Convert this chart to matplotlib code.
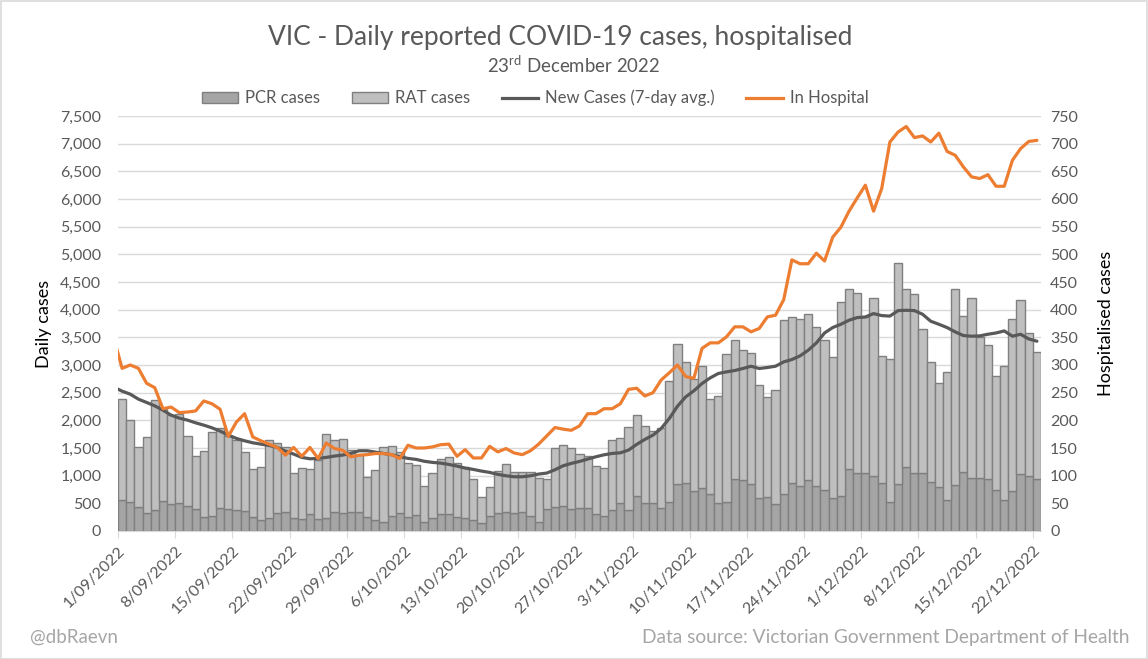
import matplotlib.pyplot as plt
import numpy as np
from matplotlib.patches import Patch, Rectangle
from matplotlib.lines import Line2D
from matplotlib.ticker import FuncFormatter, MultipleLocator

plt.rcParams['font.family'] = ['Lato', 'DejaVu Sans']
plt.rcParams['mathtext.fontset'] = 'custom'
plt.rcParams['mathtext.rm'] = 'Lato'

# daily values 1/09/2022 .. 22/12/2022 (113 days)
total_cases = [
    2383, 2004, 1522, 1702, 2370, 2202, 2094, 2110, 1715, 1360,
    1450, 1793, 1865, 1715, 1643, 1426, 1125, 1161, 1643, 1583,
    1522, 1053, 1131, 1113, 1282, 1751, 1643, 1655, 1462, 1372,
    980, 1101, 1522, 1540, 1431, 1233, 1191, 815, 1041, 1294,
    1330, 1233, 1150, 939, 619, 800, 1083, 1209, 1071, 1071,
    1059, 951, 933, 1504, 1552, 1492, 1384, 1354, 1179, 1131,
    1643, 1685, 1883, 2100, 1900, 1805, 1865, 2713, 3388, 3056,
    2738, 2978, 2377, 2437, 3195, 3460, 3267, 3219, 2635, 2413,
    2557, 3809, 3868, 3827, 3917, 3688, 3448, 3147, 4139, 4368,
    4302, 3870, 4211, 3162, 3117, 4843, 4368, 4290, 3652, 3056,
    2677, 2876, 4368, 3887, 4211, 3508, 3370, 2804, 2984, 3833,
    4181, 3586, 3237,
]
pcr_cases = [
    560, 529, 439, 319, 379, 547, 482, 500, 457, 391,
    259, 271, 421, 391, 379, 361, 259, 205, 238, 331,
    349, 241, 217, 301, 217, 241, 343, 331, 343, 349,
    247, 199, 169, 271, 331, 247, 289, 160, 230, 301,
    301, 247, 229, 199, 150, 271, 331, 349, 331, 349,
    277, 162, 397, 427, 451, 397, 421, 409, 307, 271,
    379, 505, 379, 632, 505, 505, 415, 523, 848, 872,
    722, 776, 668, 499, 529, 939, 921, 848, 602, 620,
    487, 668, 860, 812, 921, 812, 740, 590, 632, 1119,
    1041, 1041, 993, 866, 517, 845, 1155, 1041, 1053, 890,
    800, 560, 830, 1071, 951, 963, 939, 740, 560, 722,
    1029, 993, 939,
]
# line series start one day earlier (31/08) so they run in from the left edge
avg_7day = [
    2599,
    2527, 2473, 2383, 2323, 2262, 2184, 2094, 2040, 2004, 1955,
    1913, 1865, 1805, 1733, 1673, 1630, 1594, 1570, 1545, 1511,
    1444, 1390, 1330, 1305, 1312, 1330, 1354, 1372, 1402, 1450,
    1450, 1426, 1402, 1378, 1342, 1312, 1294, 1260, 1240, 1227,
    1203, 1173, 1137, 1113, 1083, 1059, 1023, 998, 980, 980,
    998, 1029, 1047, 1107, 1179, 1222, 1257, 1300, 1341, 1377,
    1402, 1413, 1462, 1565, 1655, 1733, 1854, 2034, 2256, 2424,
    2533, 2666, 2767, 2847, 2876, 2900, 2937, 2978, 2937, 2955,
    2978, 3056, 3099, 3165, 3267, 3399, 3579, 3677, 3736, 3809,
    3857, 3868, 3929, 3893, 3884, 3983, 3989, 3983, 3917, 3791,
    3736, 3677, 3598, 3532, 3520, 3526, 3556, 3579, 3616, 3520,
    3556, 3471, 3430,
]
in_hospital = [
    348,
    294, 300, 294, 267, 259, 221, 224, 214, 215, 217,
    235, 230, 220, 171, 197, 212, 170, 163, 157, 151,
    137, 151, 135, 151, 131, 159, 149, 146, 134, 137,
    138, 140, 140, 138, 131, 155, 150, 150, 152, 156,
    157, 135, 147, 132, 132, 153, 143, 149, 141, 138,
    145, 157, 172, 187, 184, 182, 190, 212, 212, 221,
    221, 230, 256, 258, 244, 250, 273, 286, 300, 279,
    276, 330, 340, 340, 351, 369, 369, 360, 366, 387,
    390, 418, 490, 483, 483, 502, 488, 531, 549, 578,
    602, 625, 578, 619, 703, 721, 731, 711, 714, 703,
    719, 686, 679, 658, 640, 637, 644, 623, 623, 670,
    691, 704, 706,
]
tick_labels = [
    '1/09/2022', '8/09/2022', '15/09/2022', '22/09/2022', '29/09/2022',
    '6/10/2022', '13/10/2022', '20/10/2022', '27/10/2022', '3/11/2022',
    '10/11/2022', '17/11/2022', '24/11/2022', '1/12/2022', '8/12/2022',
    '15/12/2022', '22/12/2022',
]

n = len(total_cases)
x = np.arange(n)
pcr = np.array(pcr_cases)
rat = np.array(total_cases) - pcr
x_line = np.arange(-1, n) + 0.5

W, H = 1148, 659
fig = plt.figure(figsize=(W / 100, H / 100), dpi=100)
ax = fig.add_axes([118 / W, 1 - 531 / H, (1041 - 118) / W, (531 - 116) / H])

grey_txt = '#595959'
ax.bar(x + 0.5, pcr, width=1, color='#a5a5a5', edgecolor='#7f7f7f', linewidth=1.0, zorder=2)
ax.bar(x + 0.5, rat, bottom=pcr, width=1, color='#bfbfbf', edgecolor='#7f7f7f', linewidth=1.0, zorder=2)
ax.plot(x_line, avg_7day, color='#595959', linewidth=2.3, zorder=3, solid_capstyle='round')

ax.set_xlim(0, n)
ax.set_ylim(0, 7500)
ax.yaxis.set_major_locator(MultipleLocator(500))
ax.yaxis.set_major_formatter(FuncFormatter(lambda v, p: f'{int(v):,}'))
ax.grid(axis='y', color='#d9d9d9', linewidth=1.0, zorder=0)
ax.set_axisbelow(True)
ax.set_xticks(np.arange(0, n, 7))
ax.set_xticklabels(tick_labels, rotation=45, ha='right', va='top', rotation_mode='anchor')
for s in ['top', 'left', 'right']:
    ax.spines[s].set_visible(False)
ax.spines['bottom'].set_color('#d9d9d9')
ax.tick_params(axis='x', colors='#d9d9d9', length=5, labelcolor=grey_txt, labelsize=11.5, pad=4)
ax.tick_params(axis='y', length=0, labelcolor=grey_txt, labelsize=11.5, pad=12)
ax.set_ylabel('Daily cases', fontsize=13, color='black', labelpad=6)

ax2 = ax.twinx()
ax2.plot(x_line, in_hospital, color='#ed7d31', linewidth=2.3, zorder=4, solid_capstyle='round')
ax2.set_xlim(0, n)
ax2.set_ylim(0, 750)
ax2.yaxis.set_major_locator(MultipleLocator(50))
for s in ['top', 'left', 'right', 'bottom']:
    ax2.spines[s].set_visible(False)
ax2.tick_params(axis='y', length=0, labelcolor=grey_txt, labelsize=11.5, pad=6.5)
ax2.set_ylabel('Hospitalised cases', fontsize=13, color='black', labelpad=14)

fig.text(560 / W, 1 - 37 / H, 'VIC - Daily reported COVID-19 cases, hospitalised',
         ha='center', va='center', fontsize=19, color=grey_txt)
fig.text(574 / W, 1 - 65 / H, r'23$^{\mathrm{rd}}$ December 2022',
         ha='center', va='center', fontsize=13.4, color=grey_txt)

handles = [
    Patch(facecolor='#a5a5a5', edgecolor='#7f7f7f', label='PCR cases'),
    Patch(facecolor='#bfbfbf', edgecolor='#7f7f7f', label='RAT cases'),
    Line2D([], [], color='#595959', linewidth=2.3, label='New Cases (7-day avg.)'),
    Line2D([], [], color='#ed7d31', linewidth=2.3, label='In Hospital'),
]
fig.legend(handles=handles, loc='center', bbox_to_anchor=(535 / W, 1 - 98 / H), ncol=4,
           frameon=False, fontsize=12, labelcolor=grey_txt, handlelength=2.2,
           handleheight=0.6, handletextpad=0.4, columnspacing=1.9)

fig.text(30 / W, 1 - 637 / H, '@dbRaevn', ha='left', va='center', fontsize=13.5, color='#a6a6a6')
fig.text(1130 / W, 1 - 637 / H, 'Data source: Victorian Government Department of Health',
         ha='right', va='center', fontsize=13.8, color='#a6a6a6')

fig.patches.append(Rectangle((0.5 / W, 0.5 / H), 1 - 1.5 / W, 1 - 1.5 / H, transform=fig.transFigure,
                             fill=False, edgecolor='#d9d9d9', linewidth=1.2))

fig.savefig('out.png', dpi=100)
